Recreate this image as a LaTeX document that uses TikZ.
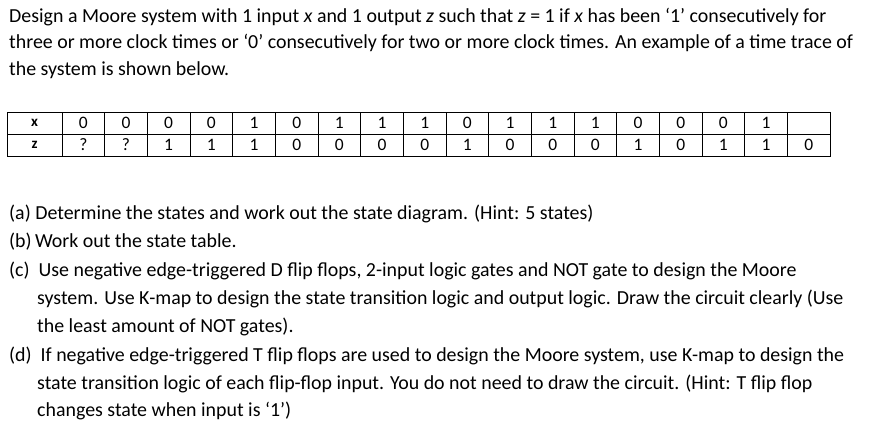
\documentclass[tikz,border=0pt]{standalone}
\usepackage{fontspec}
\setmainfont{Carlito}
\begin{document}
\begin{tikzpicture}[x=1pt,y=-1pt,
  txt/.style={anchor=base west,inner sep=0,font=\fontsize{19.9}{24}\selectfont},
  cell/.style={font=\fontsize{17.5}{20}\selectfont}]
\useasboundingbox (0,0) rectangle (876,439);
\node[txt] (l1) at (9,22) {Design a Moore system with 1 input \textit{x} and 1 output \textit{z} such that \textit{z} = 1 if \textit{x} has been `1' consecutively for};
\node[txt] (l2) at (9,48) {three or more clock times or `0' consecutively for two or more clock times. An example of a time trace of};
\node[txt] (l3) at (9,75) {the system is shown below.};
% table
\def\tl{7}\def\fc{62}\def\cw{42.67}
\draw[line width=0.6pt] (\tl,112) rectangle (830,156);
\draw[line width=0.6pt] (\tl,134) -- (830,134);
\draw[line width=0.6pt] (\fc,112) -- (\fc,156);
\foreach \i in {1,...,17} \draw[line width=0.6pt] ({\fc+\i*\cw},112) -- ({\fc+\i*\cw},156);
\node[cell,font=\bfseries\fontsize{15}{18}\selectfont] (hx) at (34.5,123) {x};
\node[cell,font=\bfseries\fontsize{15}{18}\selectfont] (hz) at (34.5,145) {z};
\foreach \v [count=\i] in {0,0,0,0,1,0,1,1,1,0,1,1,1,0,0,0,1}
  \node[cell] (x\i) at ({\fc+(\i-0.5)*\cw},123) {\v};
\foreach \v [count=\i] in {?,?,1,1,1,0,0,0,0,1,0,0,0,1,0,1,1,0}
  \node[cell] (z\i) at ({\fc+(\i-0.5)*\cw},145) {\v};
% questions
\node[txt] (a) at (9,219) {(a) Determine the states and work out the state diagram. (Hint: 5 states)};
\node[txt] (b) at (9,247) {(b)\,Work out the state table.};
\node[txt] (c1) at (9,276) {(c)\ \ Use negative edge-triggered D flip flops, 2-input logic gates and NOT gate to design the Moore};
\node[txt] (c2) at (37,304) {system. Use K-map to design the state transition logic and output logic. Draw the circuit clearly (Use};
\node[txt] (c3) at (37,332) {the least amount of NOT gates).};
\node[txt] (d1) at (9,361) {(d)\ \ If negative edge-triggered T flip flops are used to design the Moore system, use K-map to design the};
\node[txt] (d2) at (37,389) {state transition logic of each flip-flop input. You do not need to draw the circuit. (Hint: T flip flop};
\node[txt] (d3) at (37,416) {changes state when input is `1')};
\end{tikzpicture}
\end{document}
